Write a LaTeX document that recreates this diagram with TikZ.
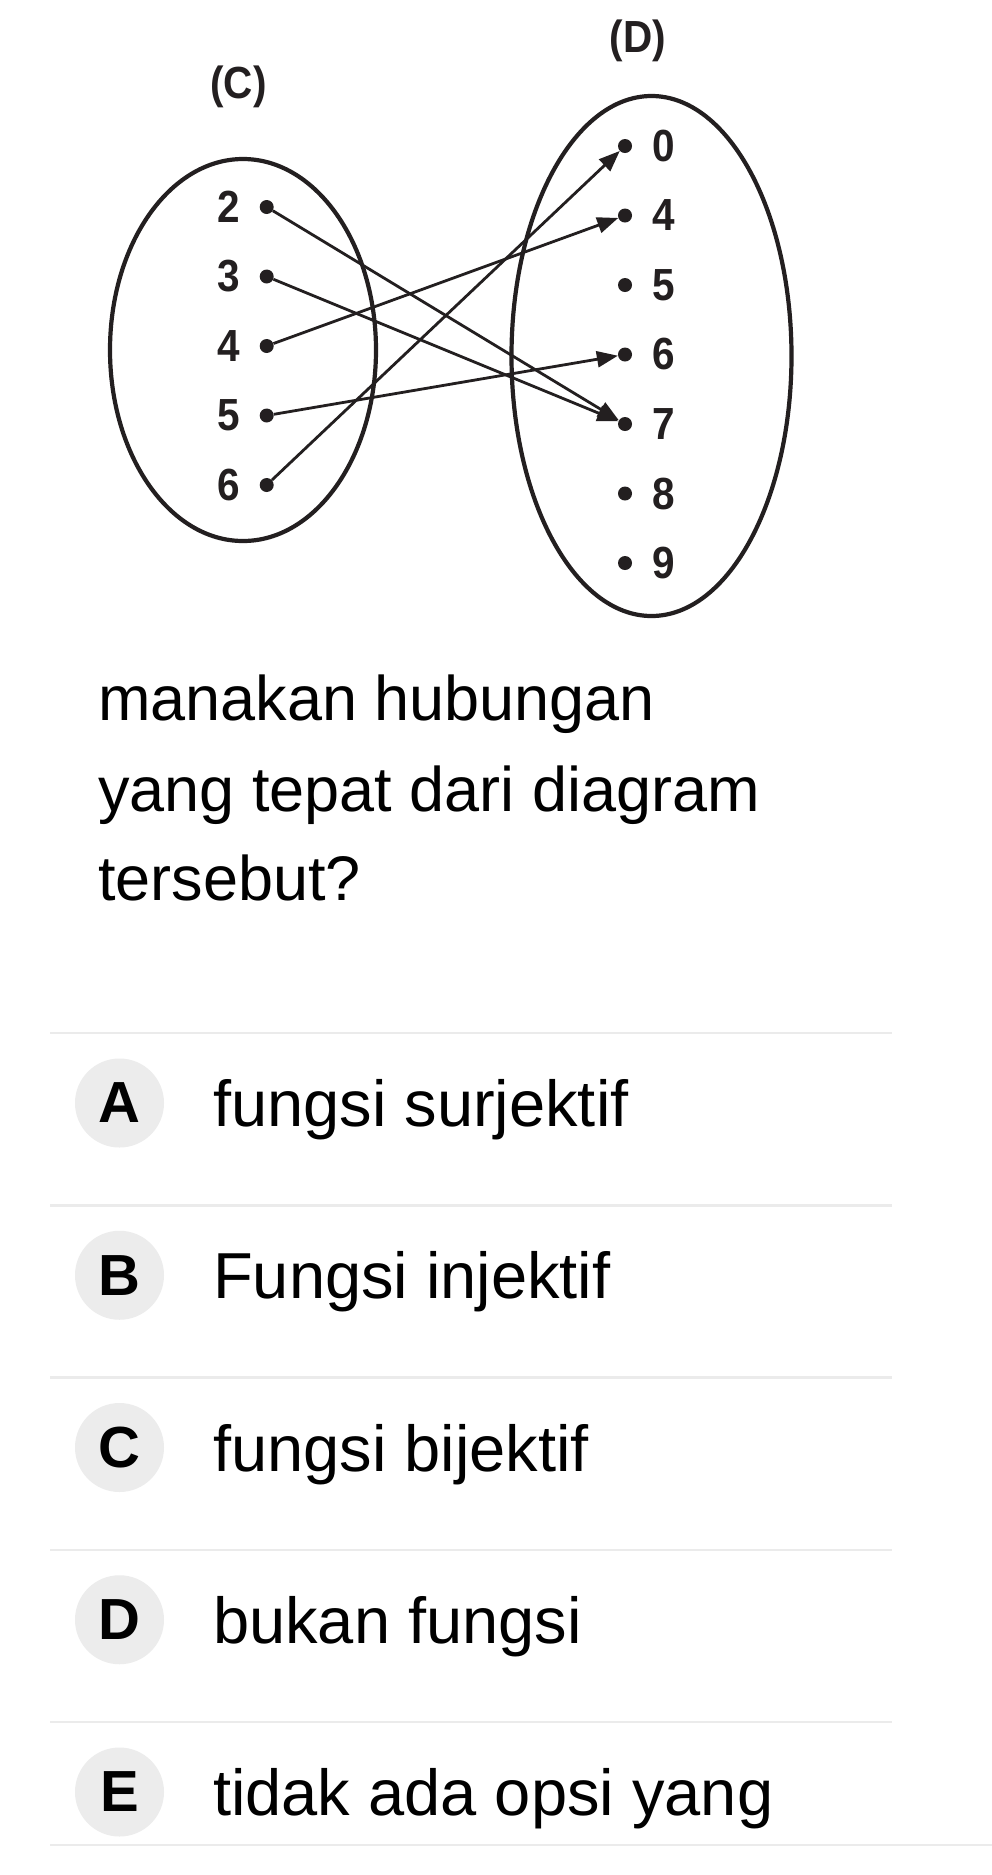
\documentclass[tikz,border=0pt]{standalone}
\usepackage{fontspec}
\setmainfont{Liberation Sans}
\newfontfamily\diagfont[FakeStretch=0.9]{Liberation Sans Bold}
\usetikzlibrary{arrows.meta,shapes.geometric}
\definecolor{sepgray}{HTML}{EBEBEB}
\definecolor{badge}{HTML}{ECECEC}
\definecolor{ink}{HTML}{231F20}
\begin{document}
\begin{tikzpicture}[x=1pt,y=-1pt,
  dot/.style={circle,fill=ink,inner sep=0pt,minimum size=14pt},
  digit/.style={font=\diagfont\fontsize{45}{48}\selectfont,text=ink,inner sep=0pt},
  setshape/.style={ellipse,draw=ink,line width=4.2pt,inner sep=0pt},
  maparrow/.style={draw=ink,line width=2.8pt,-{Triangle[length=21pt,width=16pt]}},
  question/.style={font=\fontsize{63}{70}\selectfont,anchor=base west,inner sep=0pt},
  badgecirc/.style={circle,fill=badge,minimum size=89pt,inner sep=0pt,font=\fontsize{58}{60}\selectfont\bfseries},
  option/.style={font=\fontsize{65}{70}\selectfont,anchor=base west,inner sep=0pt},
  sepline/.style={draw=sepgray,line width=2.5pt}]
\useasboundingbox (0,0) rectangle (992,1875);
\fill[white] (0,0) rectangle (992,1875);

% sets
\node[setshape,minimum width=266pt,minimum height=382pt] (setC) at (243,350) {};
\node[setshape,minimum width=280pt,minimum height=520pt] (setD) at (651.5,356) {};
\node[digit] (labC) at (238.5,86.5) {(C)};
\node[digit] (labD) at (638,41) {(D)};

% left elements
\foreach \v/\y in {2/207,3/276.5,4/346,5/415.5,6/485}{
  \node[dot] (l\v) at (266.7,\y) {};
  \node[digit] (lt\v) at (228.5,\y) {\v};
}
% right elements
\foreach \v/\y in {0/146,4/215.5,5/285,6/354.5,7/424,8/493.5,9/563}{
  \node[dot] (r\v) at (625,\y) {};
  \node[digit] (rt\v) at (663.5,\y) {\v};
}

% mapping
\draw[maparrow] (l2) -- (r7);
\draw[maparrow] (l3) -- (r7);
\draw[maparrow] (l4) -- (r4);
\draw[maparrow] (l5) -- (r6);
\draw[maparrow] (l6) -- (r0);

% question
\node[question] (q1) at (98,720) {manakan hubungan};
\node[question] (q2) at (98,811) {yang tepat dari diagram};
\node[question] (q3) at (98,900) {tersebut?};

% options
\foreach \k in {0,...,4}{
  \draw[sepline] (50,{1033+172.25*\k}) -- (892,{1033+172.25*\k});
}
\draw[sepline] (50,1845) -- (992,1845);
\foreach \L/\T [count=\i from 0] in {A/fungsi surjektif,B/Fungsi injektif,C/fungsi bijektif,D/bukan fungsi,E/tidak ada opsi yang}{
  \node[badgecirc] (badge\L) at (119.5,{1103+172.25*\i}) {\L};
  \node[option] (opt\L) at (213,{1126.7+172.25*\i}) {\T};
}
\end{tikzpicture}
\end{document}
